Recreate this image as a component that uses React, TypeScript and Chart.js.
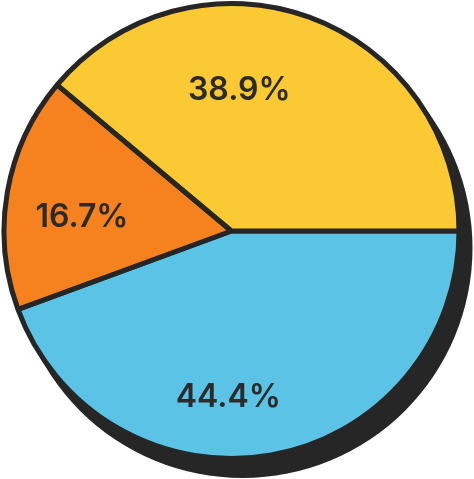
import React, { useEffect, useRef } from "react";
import { Chart, registerables } from "chart.js";

Chart.register(...registerables);

const categories = ["Blue", "Orange", "Yellow"];
const values = [44.4, 16.7, 38.9];
const labels = ["44.4%", "16.7%", "38.9%"];
const colors = ["#5BC4E6", "#F5821F", "#FBC933"];

const INK = "#262626";

const shadowPlugin = {
  id: "pieShadow",
  beforeDatasetsDraw(chart: any, _args: any, opts: any) {
    const meta = chart.getDatasetMeta(0);
    const arc = meta.data[0];
    if (!arc) return;
    const { x, y, outerRadius } = arc.getProps(["x", "y", "outerRadius"], true);
    const ctx = chart.ctx;
    ctx.save();
    ctx.fillStyle = opts.color;
    ctx.beginPath();
    ctx.arc(x + opts.dx, y + opts.dy, outerRadius + opts.extra, 0, Math.PI * 2);
    ctx.fill();
    ctx.restore();
  },
};

const labelPlugin = {
  id: "sliceLabels",
  afterDatasetsDraw(chart: any, _args: any, opts: any) {
    const meta = chart.getDatasetMeta(0);
    const ctx = chart.ctx;
    ctx.save();
    ctx.fillStyle = opts.color;
    ctx.font = opts.font;
    ctx.textAlign = "center";
    ctx.textBaseline = "middle";
    meta.data.forEach((arc: any, i: number) => {
      const p = arc.getProps(["x", "y", "startAngle", "endAngle", "outerRadius"], true);
      const place = opts.placement[i] || { t: 0.5, r: 0.65 };
      const a = p.startAngle + (p.endAngle - p.startAngle) * place.t;
      const r = p.outerRadius * place.r;
      ctx.fillText(labels[i], p.x + Math.cos(a) * r, p.y + Math.sin(a) * r);
    });
    ctx.restore();
  },
};

export default function App() {
  const ref = useRef<HTMLCanvasElement | null>(null);
  useEffect(() => {
    if (!ref.current) return;
    const chart = new Chart(ref.current, {
      type: "pie",
      data: {
        labels: categories,
        datasets: [
          {
            data: values,
            backgroundColor: colors,
            borderColor: INK,
            borderWidth: 5,
            hoverOffset: 0,
          },
        ],
      },
      options: {
        animation: false,
        responsive: false,
        rotation: 90,
        layout: { padding: { left: 1.5, top: 1, right: 12.5, bottom: 18 } },
        plugins: {
          legend: { display: false },
          tooltip: { enabled: false },
          pieShadow: { color: INK, dx: 11, dy: 17, extra: 2.5 },
          sliceLabels: {
            color: "#2B2B2B",
            font: "600 32px Inter, 'Open Sans', sans-serif",
            placement: [
              { t: 0.57, r: 0.73 },
              { t: 0.42, r: 0.66 },
              { t: 0.38, r: 0.62 },
            ],
          },
        } as any,
      },
      plugins: [shadowPlugin, labelPlugin],
    });
    return () => chart.destroy();
  }, []);
  return (
    <div style={{ position: "fixed", left: 0, top: 0, width: 474, height: 479, background: "#fff" }}>
      <canvas ref={ref} width={474} height={479} style={{ display: "block", width: 474, height: 479 }} />
    </div>
  );
}
